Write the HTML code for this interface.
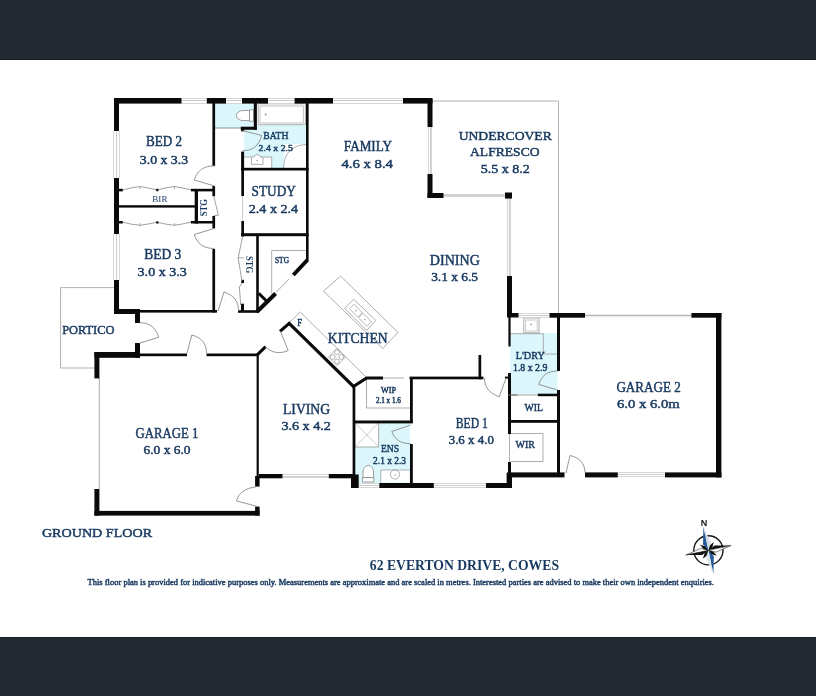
<!DOCTYPE html>
<html><head><meta charset="utf-8"><style>
html,body{margin:0;padding:0;background:#fff;}
body{width:816px;height:696px;position:relative;overflow:hidden;font-family:"Liberation Serif",serif;}
.band{position:absolute;left:0;width:816px;background:#222932;}
svg{position:absolute;left:0;top:0;will-change:transform;}
</style></head><body>
<div class="band" style="top:0;height:60px;border-bottom:1px solid #191c1f;box-sizing:border-box;"></div>
<div class="band" style="top:637px;height:59px;border-top:1px solid #191c1f;box-sizing:border-box;"></div>
<svg width="816" height="696" viewBox="0 0 816 696" style="top:0">
<rect x="215.0" y="103.0" width="39.0" height="25.0" fill="#dbf7fc"/>
<rect x="244.0" y="125.0" width="62.0" height="43.0" fill="#dbf7fc"/>
<rect x="284.0" y="144.0" width="22.0" height="24.0" fill="#fff"/>
<rect x="244.0" y="157.0" width="28.0" height="11.0" fill="#fff"/>
<rect x="355.0" y="423.0" width="55.0" height="60.0" fill="#dbf7fc"/>
<rect x="510.0" y="333.0" width="47.0" height="61.0" fill="#dbf7fc"/>
<path d="M433,101 L558.5,101 L558.5,313" stroke="#a8a8a8" stroke-width="0.9" fill="none"/>
<path d="M94.4,368 L60.6,368 L60.6,287.6 L114,287.6" stroke="#a8a8a8" stroke-width="0.9" fill="none"/>
<path d="M258.2,103.8 L305.4,103.8 L305.4,124.7 L258.2,124.7 Z" stroke="#999" stroke-width="0.8" fill="none"/>
<path d="M260,106 L303.4,106 L303.4,123 L260,123 Z" stroke="#aaa" stroke-width="0.7" fill="none"/>
<circle cx="265.7" cy="114.5" r="0.9" fill="#888"/>
<path d="M249.5,110.5 L243,110.5 A6.5,5 0 0 0 243,120.6 L249.5,120.6 Z" stroke="#888" stroke-width="0.8" fill="#fff"/>
<path d="M249.5,109.8 L253.5,109.8 L253.5,121.3 L249.5,121.3 Z" stroke="#888" stroke-width="0.8" fill="#fff"/>
<line x1="215.0" y1="128.0" x2="240.7" y2="128.0" stroke="#777" stroke-width="0.8" stroke-linecap="butt"/>
<path d="M283.5,168 Q284,146 306,144.5" stroke="#999" stroke-width="0.8" fill="none"/>
<path d="M244,157 L271.7,157 L271.7,168" stroke="#999" stroke-width="0.8" fill="none"/>
<path d="M251.5,164.4 L251.5,158 L257,154.3 L263,158 L263,164.4 Z" stroke="#999" stroke-width="0.8" fill="#fff"/>
<circle cx="257.2" cy="160.5" r="0.7" fill="#888"/>
<path d="M510,333.7 L543.3,333.7 L543.3,354 L557,354" stroke="#999" stroke-width="0.8" fill="none"/>
<path d="M523.7,318 L539,318 L539,332.8 L523.7,332.8 Z" stroke="#999" stroke-width="0.8" fill="#fff"/>
<path d="M525.5,320 L537.2,320 L537.2,331 L525.5,331 Z" stroke="#aaa" stroke-width="0.6" fill="none"/>
<circle cx="531" cy="324.5" r="0.8" fill="#888"/>
<line x1="517.6" y1="395.0" x2="537.8" y2="395.0" stroke="#999" stroke-width="0.9" stroke-linecap="butt"/>
<path d="M355,422.7 L378.6,422.7 L378.6,447 L355,447 Z" stroke="#999" stroke-width="0.8" fill="#fff"/>
<path d="M355,422.7 L378.6,447 M378.6,422.7 L355,447" stroke="#aaa" stroke-width="0.6" fill="none"/>
<path d="M363,477.6 L363,472 A5.2,6.5 0 0 1 373.5,472 L373.5,477.6 Z" stroke="#888" stroke-width="0.8" fill="#fff"/>
<path d="M362.5,477.6 L374,477.6 L374,482 L362.5,482 Z" stroke="#888" stroke-width="0.8" fill="#fff"/>
<path d="M410,470 L380.8,470 L380.8,482.5" stroke="#999" stroke-width="0.8" fill="none"/>
<rect x="381.5" y="470.7" width="28" height="11.5" fill="#fff"/>
<circle cx="395" cy="474.5" r="4.6" fill="none" stroke="#999" stroke-width="0.8"/>
<circle cx="395" cy="475" r="0.7" fill="#888"/>
<path d="M366.5,379 L366.5,408 L410,408" stroke="#999" stroke-width="0.8" fill="none"/>
<path d="M511,433.5 L543,433.5 L543,461.5 L511,461.5" stroke="#999" stroke-width="0.8" fill="none"/>
<path d="M271.7,293.4 L271.7,250.5 L306,250.5" stroke="#999" stroke-width="0.8" fill="none"/>
<path d="M323.5,291.2 L340.6,276.1 L397.9,332.4 L382.8,348.5 Z" stroke="#999" stroke-width="0.8" fill="none"/>
<path d="M344.6,308.3 L353.6,299.2 L375.8,320.4 L366.7,330.4 Z" stroke="#999" stroke-width="0.8" fill="none"/>
<path d="M349.5,308.8 L354,304.3 L362.3,312.6 L357.8,317.1 Z" stroke="#999" stroke-width="0.7" fill="none"/>
<path d="M358.5,317.8 L363,313.3 L371.3,321.6 L366.8,326.1 Z" stroke="#999" stroke-width="0.7" fill="none"/>
<circle cx="355.9" cy="310.7" r="0.7" fill="#888"/><circle cx="364.9" cy="319.7" r="0.7" fill="#888"/>
<path d="M289.5,322.5 L300.3,312 L365.7,376.7" stroke="#999" stroke-width="0.8" fill="none"/>
<path d="M337,348.5 L345.6,357 L337,365.6 L328.5,357 Z" stroke="#999" stroke-width="0.7" fill="none"/>
<circle cx="337" cy="352.2" r="2.4" fill="none" stroke="#999" stroke-width="0.7"/>
<circle cx="341.3" cy="357" r="2.4" fill="none" stroke="#999" stroke-width="0.7"/>
<circle cx="337" cy="361.4" r="2.4" fill="none" stroke="#999" stroke-width="0.7"/>
<circle cx="332.7" cy="357" r="2.4" fill="none" stroke="#999" stroke-width="0.7"/>
<path d="M122.8,189.9 Q131,187.6 140,186.5 Q149,188 157.2,189.9 Q166,187.6 174.4,186.5 Q183,188 191,189.9" stroke="#888" stroke-width="0.8" fill="none"/>
<path d="M122.8,222.2 Q131,224.5 140,225.3 Q149,224 157.2,222.2 Q166,224.5 174.4,225.3 Q183,224 191,222.2" stroke="#888" stroke-width="0.8" fill="none"/>
<rect x="156.2" y="188.8" width="2.2" height="2.4" fill="#0a0a0a"/>
<rect x="156.2" y="221.4" width="2.2" height="2.2" fill="#0a0a0a"/>
<line x1="140.0" y1="186.5" x2="140.0" y2="189.3" stroke="#888" stroke-width="0.7" stroke-linecap="butt"/>
<line x1="140.0" y1="223.0" x2="140.0" y2="225.8" stroke="#888" stroke-width="0.7" stroke-linecap="butt"/>
<line x1="174.4" y1="186.5" x2="174.4" y2="189.3" stroke="#888" stroke-width="0.7" stroke-linecap="butt"/>
<line x1="174.4" y1="223.0" x2="174.4" y2="225.8" stroke="#888" stroke-width="0.7" stroke-linecap="butt"/>
<line x1="443.5" y1="194.5" x2="505.0" y2="194.5" stroke="#d6d6d6" stroke-width="1"/>
<line x1="443.5" y1="195.5" x2="505.0" y2="195.5" stroke="#cdcdcd" stroke-width="1"/>
<line x1="443.5" y1="196.5" x2="505.0" y2="196.5" stroke="#d6d6d6" stroke-width="1"/>
<line x1="507.5" y1="198.6" x2="507.5" y2="276.0" stroke="#d6d6d6" stroke-width="1"/>
<line x1="509.5" y1="198.6" x2="509.5" y2="276.0" stroke="#cdcdcd" stroke-width="1"/>
<line x1="510.5" y1="198.6" x2="510.5" y2="276.0" stroke="#d6d6d6" stroke-width="1"/>
<line x1="181.5" y1="98.5" x2="206.8" y2="98.5" stroke="#d6d6d6" stroke-width="1"/>
<line x1="181.5" y1="100.5" x2="206.8" y2="100.5" stroke="#cdcdcd" stroke-width="1"/>
<line x1="181.5" y1="103.5" x2="206.8" y2="103.5" stroke="#d6d6d6" stroke-width="1"/>
<line x1="226.0" y1="98.5" x2="242.0" y2="98.5" stroke="#d6d6d6" stroke-width="1"/>
<line x1="226.0" y1="100.5" x2="242.0" y2="100.5" stroke="#cdcdcd" stroke-width="1"/>
<line x1="226.0" y1="103.5" x2="242.0" y2="103.5" stroke="#d6d6d6" stroke-width="1"/>
<line x1="268.0" y1="98.5" x2="294.6" y2="98.5" stroke="#d6d6d6" stroke-width="1"/>
<line x1="268.0" y1="100.5" x2="294.6" y2="100.5" stroke="#cdcdcd" stroke-width="1"/>
<line x1="268.0" y1="103.5" x2="294.6" y2="103.5" stroke="#d6d6d6" stroke-width="1"/>
<line x1="333.0" y1="98.5" x2="403.0" y2="98.5" stroke="#d6d6d6" stroke-width="1"/>
<line x1="333.0" y1="100.5" x2="403.0" y2="100.5" stroke="#cdcdcd" stroke-width="1"/>
<line x1="333.0" y1="103.5" x2="403.0" y2="103.5" stroke="#d6d6d6" stroke-width="1"/>
<line x1="113.5" y1="131.2" x2="113.5" y2="178.6" stroke="#d6d6d6" stroke-width="1"/>
<line x1="116.5" y1="131.2" x2="116.5" y2="178.6" stroke="#cdcdcd" stroke-width="1"/>
<line x1="119.5" y1="131.2" x2="119.5" y2="178.6" stroke="#d6d6d6" stroke-width="1"/>
<line x1="113.5" y1="234.0" x2="113.5" y2="280.4" stroke="#d6d6d6" stroke-width="1"/>
<line x1="116.5" y1="234.0" x2="116.5" y2="280.4" stroke="#cdcdcd" stroke-width="1"/>
<line x1="119.5" y1="234.0" x2="119.5" y2="280.4" stroke="#d6d6d6" stroke-width="1"/>
<line x1="428.5" y1="127.0" x2="428.5" y2="174.0" stroke="#d6d6d6" stroke-width="1"/>
<line x1="430.5" y1="127.0" x2="430.5" y2="174.0" stroke="#cdcdcd" stroke-width="1"/>
<line x1="431.5" y1="127.0" x2="431.5" y2="174.0" stroke="#d6d6d6" stroke-width="1"/>
<line x1="99.3" y1="378.0" x2="99.3" y2="489.0" stroke="#a0a0a0" stroke-width="0.9" stroke-linecap="butt"/>
<line x1="282.5" y1="474.5" x2="328.8" y2="474.5" stroke="#d6d6d6" stroke-width="1"/>
<line x1="282.5" y1="476.5" x2="328.8" y2="476.5" stroke="#cdcdcd" stroke-width="1"/>
<line x1="282.5" y1="477.5" x2="328.8" y2="477.5" stroke="#d6d6d6" stroke-width="1"/>
<line x1="358.7" y1="483.5" x2="379.3" y2="483.5" stroke="#d6d6d6" stroke-width="1"/>
<line x1="358.7" y1="485.5" x2="379.3" y2="485.5" stroke="#cdcdcd" stroke-width="1"/>
<line x1="358.7" y1="487.5" x2="379.3" y2="487.5" stroke="#d6d6d6" stroke-width="1"/>
<line x1="433.8" y1="483.5" x2="486.0" y2="483.5" stroke="#d6d6d6" stroke-width="1"/>
<line x1="433.8" y1="485.5" x2="486.0" y2="485.5" stroke="#cdcdcd" stroke-width="1"/>
<line x1="433.8" y1="487.5" x2="486.0" y2="487.5" stroke="#d6d6d6" stroke-width="1"/>
<line x1="617.8" y1="472.5" x2="665.0" y2="472.5" stroke="#d6d6d6" stroke-width="1"/>
<line x1="617.8" y1="474.5" x2="665.0" y2="474.5" stroke="#cdcdcd" stroke-width="1"/>
<line x1="617.8" y1="476.5" x2="665.0" y2="476.5" stroke="#d6d6d6" stroke-width="1"/>
<line x1="518.5" y1="313.5" x2="549.5" y2="313.5" stroke="#d6d6d6" stroke-width="1"/>
<line x1="518.5" y1="315.5" x2="549.5" y2="315.5" stroke="#cdcdcd" stroke-width="1"/>
<line x1="518.5" y1="317.5" x2="549.5" y2="317.5" stroke="#d6d6d6" stroke-width="1"/>
<line x1="585.0" y1="315.3" x2="691.4" y2="315.3" stroke="#999" stroke-width="0.9" stroke-linecap="butt"/>
<line x1="585.0" y1="316.8" x2="691.4" y2="316.8" stroke="#ccc" stroke-width="0.5" stroke-linecap="butt"/>
<line x1="242.6" y1="196.0" x2="242.6" y2="221.0" stroke="#bbb" stroke-width="0.8" stroke-linecap="butt"/>
<line x1="509.5" y1="434.0" x2="509.5" y2="462.0" stroke="#999" stroke-width="0.8" stroke-linecap="butt"/>
<line x1="383.0" y1="378.0" x2="404.0" y2="378.0" stroke="#999" stroke-width="0.8" stroke-linecap="butt"/>
<rect x="114.0" y="98.0" width="67.5" height="5.6" fill="#0a0a0a"/>
<rect x="206.8" y="98.0" width="19.2" height="5.6" fill="#0a0a0a"/>
<rect x="242.0" y="98.0" width="26.0" height="5.6" fill="#0a0a0a"/>
<rect x="294.6" y="98.0" width="38.4" height="5.6" fill="#0a0a0a"/>
<rect x="403.0" y="98.0" width="29.5" height="5.6" fill="#0a0a0a"/>
<rect x="114.0" y="99.0" width="5.0" height="32.0" fill="#0a0a0a"/>
<rect x="114.0" y="178.0" width="5.0" height="56.0" fill="#0a0a0a"/>
<rect x="114.0" y="280.0" width="5.0" height="34.0" fill="#0a0a0a"/>
<rect x="114.0" y="309.0" width="24.0" height="5.0" fill="#0a0a0a"/>
<rect x="138.0" y="310.0" width="79.0" height="2.6" fill="#0a0a0a"/>
<rect x="135.0" y="309.0" width="5.0" height="14.0" fill="#0a0a0a"/>
<rect x="135.0" y="343.0" width="5.0" height="14.8" fill="#0a0a0a"/>
<rect x="94.4" y="352.0" width="45.6" height="5.8" fill="#0a0a0a"/>
<rect x="140.0" y="353.5" width="47.0" height="2.7" fill="#0a0a0a"/>
<rect x="206.5" y="353.5" width="51.5" height="2.7" fill="#0a0a0a"/>
<rect x="94.4" y="352.0" width="5.0" height="26.4" fill="#0a0a0a"/>
<rect x="94.4" y="489.0" width="5.0" height="26.6" fill="#0a0a0a"/>
<rect x="94.4" y="510.9" width="165.2" height="4.7" fill="#0a0a0a"/>
<rect x="256.6" y="354.0" width="2.2" height="123.0" fill="#0a0a0a"/>
<rect x="255.1" y="476.0" width="4.5" height="10.6" fill="#0a0a0a"/>
<rect x="255.1" y="506.6" width="4.5" height="9.0" fill="#0a0a0a"/>
<rect x="259.0" y="474.0" width="23.5" height="4.3" fill="#0a0a0a"/>
<rect x="328.8" y="474.0" width="25.7" height="4.3" fill="#0a0a0a"/>
<rect x="351.0" y="474.5" width="7.7" height="13.5" fill="#0a0a0a"/>
<rect x="379.3" y="483.0" width="54.5" height="5.0" fill="#0a0a0a"/>
<rect x="486.0" y="483.0" width="22.0" height="5.0" fill="#0a0a0a"/>
<rect x="506.6" y="473.0" width="5.4" height="15.0" fill="#0a0a0a"/>
<rect x="507.0" y="472.4" width="57.5" height="5.0" fill="#0a0a0a"/>
<rect x="585.0" y="472.4" width="32.8" height="5.0" fill="#0a0a0a"/>
<rect x="665.0" y="472.4" width="56.4" height="5.0" fill="#0a0a0a"/>
<rect x="716.0" y="313.0" width="5.4" height="164.4" fill="#0a0a0a"/>
<rect x="549.5" y="313.0" width="35.5" height="4.7" fill="#0a0a0a"/>
<rect x="691.4" y="313.0" width="30.0" height="4.7" fill="#0a0a0a"/>
<rect x="507.0" y="313.0" width="11.5" height="4.5" fill="#0a0a0a"/>
<rect x="507.0" y="276.0" width="5.0" height="41.0" fill="#0a0a0a"/>
<rect x="557.0" y="313.0" width="3.0" height="58.0" fill="#0a0a0a"/>
<rect x="557.0" y="390.0" width="3.0" height="87.0" fill="#0a0a0a"/>
<rect x="508.4" y="317.0" width="2.2" height="29.5" fill="#0a0a0a"/>
<rect x="508.0" y="373.0" width="3.0" height="61.0" fill="#0a0a0a"/>
<rect x="508.0" y="462.0" width="3.0" height="26.0" fill="#0a0a0a"/>
<rect x="505.0" y="376.6" width="3.4" height="2.0" fill="#0a0a0a"/>
<rect x="537.8" y="393.7" width="19.2" height="2.5" fill="#0a0a0a"/>
<line x1="508.0" y1="395.0" x2="517.6" y2="395.0" stroke="#555" stroke-width="1.2" stroke-linecap="butt"/>
<rect x="508.0" y="420.0" width="49.0" height="2.8" fill="#0a0a0a"/>
<rect x="427.5" y="99.0" width="5.0" height="28.0" fill="#0a0a0a"/>
<rect x="427.5" y="174.0" width="5.0" height="24.0" fill="#0a0a0a"/>
<rect x="427.5" y="193.0" width="16.0" height="5.0" fill="#0a0a0a"/>
<rect x="505.0" y="192.5" width="7.0" height="6.1" fill="#0a0a0a"/>
<rect x="306.0" y="103.0" width="2.6" height="158.0" fill="#0a0a0a"/>
<line x1="307.4" y1="260.0" x2="293.3" y2="275.0" stroke="#0a0a0a" stroke-width="4" stroke-linecap="butt"/>
<line x1="289.2" y1="279.0" x2="276.2" y2="292.2" stroke="#999" stroke-width="0.9" stroke-linecap="butt"/>
<line x1="275.6" y1="293.5" x2="257.0" y2="311.8" stroke="#0a0a0a" stroke-width="4" stroke-linecap="butt"/>
<line x1="258.8" y1="293.4" x2="266.0" y2="300.5" stroke="#0a0a0a" stroke-width="3" stroke-linecap="butt"/>
<rect x="212.4" y="103.0" width="2.7" height="63.0" fill="#0a0a0a"/>
<rect x="212.4" y="186.0" width="2.7" height="10.2" fill="#0a0a0a"/>
<rect x="212.4" y="216.0" width="2.7" height="12.5" fill="#0a0a0a"/>
<rect x="212.4" y="249.0" width="2.7" height="63.5" fill="#0a0a0a"/>
<rect x="114.0" y="188.8" width="8.8" height="2.6" fill="#0a0a0a"/>
<rect x="190.9" y="188.8" width="24.1" height="2.6" fill="#0a0a0a"/>
<rect x="119.0" y="205.2" width="78.0" height="2.4" fill="#0a0a0a"/>
<rect x="194.7" y="189.0" width="3.3" height="34.6" fill="#0a0a0a"/>
<rect x="114.0" y="221.0" width="8.8" height="2.5" fill="#0a0a0a"/>
<rect x="190.9" y="221.0" width="24.1" height="2.5" fill="#0a0a0a"/>
<rect x="253.8" y="103.0" width="3.1" height="26.8" fill="#0a0a0a"/>
<rect x="240.7" y="126.7" width="16.2" height="3.1" fill="#0a0a0a"/>
<rect x="241.1" y="127.0" width="3.0" height="4.4" fill="#0a0a0a"/>
<rect x="241.1" y="151.6" width="3.0" height="18.9" fill="#0a0a0a"/>
<rect x="241.0" y="167.8" width="67.6" height="2.7" fill="#0a0a0a"/>
<rect x="241.3" y="170.0" width="2.7" height="26.0" fill="#0a0a0a"/>
<rect x="241.3" y="221.0" width="2.7" height="15.5" fill="#0a0a0a"/>
<rect x="241.0" y="233.2" width="67.6" height="3.0" fill="#0a0a0a"/>
<rect x="256.2" y="236.0" width="2.6" height="76.5" fill="#0a0a0a"/>
<rect x="241.3" y="279.8" width="2.7" height="3.2" fill="#0a0a0a"/>
<rect x="241.0" y="303.7" width="3.0" height="7.3" fill="#0a0a0a"/>
<rect x="238.0" y="310.2" width="20.8" height="2.6" fill="#0a0a0a"/>
<path d="M280,331.4 L289.2,323.4 L353.4,386.5 L366.6,378 L383,378" stroke="#0a0a0a" stroke-width="3.2" fill="none"/>
<rect x="409.5" y="376.6" width="73.9" height="2.7" fill="#0a0a0a"/>
<rect x="352.6" y="386.0" width="2.7" height="102.0" fill="#0a0a0a"/>
<rect x="478.5" y="355.0" width="2.7" height="24.3" fill="#0a0a0a"/>
<rect x="410.0" y="377.0" width="2.8" height="46.0" fill="#0a0a0a"/>
<rect x="410.0" y="444.0" width="2.8" height="44.0" fill="#0a0a0a"/>
<rect x="353.0" y="420.5" width="59.8" height="2.9" fill="#0a0a0a"/>
<line x1="256.7" y1="355.4" x2="265.6" y2="346.6" stroke="#0a0a0a" stroke-width="3" stroke-linecap="butt"/>
<path d="M214.5,186 L194.3,180 C197.11,170.53 203.85,165.80 214.5,165.8" stroke="#8a8a8a" stroke-width="0.9" fill="none"/>
<path d="M214,228.5 L194.3,234.5 C197.14,243.83 203.71,248.50 214,248.5" stroke="#8a8a8a" stroke-width="0.9" fill="none"/>
<path d="M213.8,196.2 L218.4,215.3 L213.8,215.5" stroke="#888" stroke-width="0.8" fill="none"/>
<path d="M242.7,130.7 L261.6,135.4 C259.02,145.77 252.66,150.90 242.5,150.8" stroke="#8a8a8a" stroke-width="0.9" fill="none"/>
<path d="M242.6,237 L238.1,257.8 L242,281 M242,283 L239.4,287 L240.7,305" stroke="#888" stroke-width="0.8" fill="none"/>
<line x1="238.0" y1="257.8" x2="244.0" y2="257.8" stroke="#888" stroke-width="0.7" stroke-linecap="butt"/>
<path d="M218,311 L224,292 C233.73,295.07 238.60,301.41 238.6,311" stroke="#8a8a8a" stroke-width="0.9" fill="none"/>
<path d="M139.8,343 L158.7,337.4 C155.80,327.60 149.50,322.70 139.8,322.7" stroke="#8a8a8a" stroke-width="0.9" fill="none"/>
<path d="M187,353 L191.8,335 C201.60,337.61 206.50,343.61 206.5,353" stroke="#8a8a8a" stroke-width="0.9" fill="none"/>
<path d="M280.5,331.5 L288.2,350.6 C279.19,354.23 271.56,352.90 265.3,346.6" stroke="#8a8a8a" stroke-width="0.9" fill="none"/>
<path d="M258.7,506.8 L236.5,500.9 C238.61,492.97 245.11,488.27 256,486.8" stroke="#8a8a8a" stroke-width="0.9" fill="none"/>
<path d="M410.6,425 L391.8,431.5 C394.61,439.63 400.88,443.70 410.6,443.7" stroke="#8a8a8a" stroke-width="0.9" fill="none"/>
<path d="M506,378.4 L499.2,396.8 C489.15,393.09 484.25,386.75 484.5,377.8" stroke="#8a8a8a" stroke-width="0.9" fill="none"/>
<path d="M557.5,390 L538.8,384.5 C541.45,375.50 547.68,371.00 557.5,371" stroke="#8a8a8a" stroke-width="0.9" fill="#dbf7fc"/>
<path d="M566,473 L570,455.5 C579.71,457.72 584.71,463.35 585,472.4" stroke="#8a8a8a" stroke-width="0.9" fill="none"/>
<text x="146.0" y="146.0" font-family="Liberation Serif" font-size="14" font-weight="normal" stroke="#17385f" stroke-width="0.45" fill="#17385f" textLength="36.0" lengthAdjust="spacingAndGlyphs" >BED 2</text>
<text x="139.8" y="163.8" font-family="Liberation Serif" font-size="12" font-weight="normal" stroke="#17385f" stroke-width="0.45" fill="#17385f" textLength="48.3" lengthAdjust="spacingAndGlyphs" >3.0 x 3.3</text>
<text x="152.3" y="201.6" font-family="Liberation Serif" font-size="9.2" font-weight="normal" fill="#17385f" textLength="15.2" lengthAdjust="spacingAndGlyphs" >BIR</text>
<text x="144.2" y="258.8" font-family="Liberation Serif" font-size="14" font-weight="normal" stroke="#17385f" stroke-width="0.45" fill="#17385f" textLength="37.1" lengthAdjust="spacingAndGlyphs" >BED 3</text>
<text x="137.6" y="275.8" font-family="Liberation Serif" font-size="12" font-weight="normal" stroke="#17385f" stroke-width="0.45" fill="#17385f" textLength="49.2" lengthAdjust="spacingAndGlyphs" >3.0 x 3.3</text>
<text x="263.3" y="138.5" font-family="Liberation Serif" font-size="10.5" font-weight="normal" stroke="#17385f" stroke-width="0.45" fill="#17385f" textLength="25.1" lengthAdjust="spacingAndGlyphs" >BATH</text>
<text x="258.6" y="150.6" font-family="Liberation Serif" font-size="9" font-weight="normal" stroke="#17385f" stroke-width="0.45" fill="#17385f" textLength="34.4" lengthAdjust="spacingAndGlyphs" >2.4 x 2.5</text>
<text x="251.6" y="196.3" font-family="Liberation Serif" font-size="14.2" font-weight="normal" stroke="#17385f" stroke-width="0.45" fill="#17385f" textLength="44.2" lengthAdjust="spacingAndGlyphs" >STUDY</text>
<text x="248.8" y="213.2" font-family="Liberation Serif" font-size="12" font-weight="normal" stroke="#17385f" stroke-width="0.45" fill="#17385f" textLength="49.2" lengthAdjust="spacingAndGlyphs" >2.4 x 2.4</text>
<text x="275.0" y="263.0" font-family="Liberation Serif" font-size="8" font-weight="normal" stroke="#17385f" stroke-width="0.45" fill="#17385f" textLength="14.0" lengthAdjust="spacingAndGlyphs" >STG</text>
<text x="343.8" y="150.9" font-family="Liberation Serif" font-size="14" font-weight="normal" stroke="#17385f" stroke-width="0.45" fill="#17385f" textLength="48.2" lengthAdjust="spacingAndGlyphs" >FAMILY</text>
<text x="341.4" y="167.8" font-family="Liberation Serif" font-size="12" font-weight="normal" stroke="#17385f" stroke-width="0.45" fill="#17385f" textLength="51.6" lengthAdjust="spacingAndGlyphs" >4.6 x 8.4</text>
<text x="458.7" y="139.5" font-family="Liberation Serif" font-size="13.2" font-weight="normal" stroke="#17385f" stroke-width="0.45" fill="#17385f" textLength="93.1" lengthAdjust="spacingAndGlyphs" >UNDERCOVER</text>
<text x="470.0" y="155.6" font-family="Liberation Serif" font-size="13.2" font-weight="normal" stroke="#17385f" stroke-width="0.45" fill="#17385f" textLength="69.6" lengthAdjust="spacingAndGlyphs" >ALFRESCO</text>
<text x="480.7" y="172.5" font-family="Liberation Serif" font-size="12" font-weight="normal" stroke="#17385f" stroke-width="0.45" fill="#17385f" textLength="49.1" lengthAdjust="spacingAndGlyphs" >5.5 x 8.2</text>
<text x="429.8" y="264.7" font-family="Liberation Serif" font-size="14" font-weight="normal" stroke="#17385f" stroke-width="0.45" fill="#17385f" textLength="50.0" lengthAdjust="spacingAndGlyphs" >DINING</text>
<text x="431.2" y="281.4" font-family="Liberation Serif" font-size="12" font-weight="normal" stroke="#17385f" stroke-width="0.45" fill="#17385f" textLength="46.8" lengthAdjust="spacingAndGlyphs" >3.1 x 6.5</text>
<text x="62.2" y="334.3" font-family="Liberation Serif" font-size="12" font-weight="normal" stroke="#17385f" stroke-width="0.45" fill="#17385f" textLength="52.2" lengthAdjust="spacingAndGlyphs" >PORTICO</text>
<text x="297.3" y="326.4" font-family="Liberation Serif" font-size="9.5" font-weight="normal" stroke="#17385f" stroke-width="0.45" fill="#17385f" textLength="4.7" lengthAdjust="spacingAndGlyphs" >F</text>
<text x="327.8" y="342.5" font-family="Liberation Serif" font-size="14" font-weight="normal" stroke="#17385f" stroke-width="0.45" fill="#17385f" textLength="59.8" lengthAdjust="spacingAndGlyphs" >KITCHEN</text>
<text x="515.7" y="358.6" font-family="Liberation Serif" font-size="10.5" font-weight="normal" stroke="#17385f" stroke-width="0.45" fill="#17385f" textLength="29.1" lengthAdjust="spacingAndGlyphs" >L'DRY</text>
<text x="513.0" y="370.6" font-family="Liberation Serif" font-size="9.5" font-weight="normal" stroke="#17385f" stroke-width="0.45" fill="#17385f" textLength="34.3" lengthAdjust="spacingAndGlyphs" >1.8 x 2.9</text>
<text x="524.5" y="410.9" font-family="Liberation Serif" font-size="10.5" font-weight="normal" stroke="#17385f" stroke-width="0.45" fill="#17385f" textLength="18.5" lengthAdjust="spacingAndGlyphs" >WIL</text>
<text x="515.6" y="448.3" font-family="Liberation Serif" font-size="10.5" font-weight="normal" stroke="#17385f" stroke-width="0.45" fill="#17385f" textLength="19.4" lengthAdjust="spacingAndGlyphs" >WIR</text>
<text x="381.0" y="393.0" font-family="Liberation Serif" font-size="8.3" font-weight="normal" stroke="#17385f" stroke-width="0.45" fill="#17385f" textLength="15.0" lengthAdjust="spacingAndGlyphs" >WIP</text>
<text x="375.9" y="402.8" font-family="Liberation Serif" font-size="7.2" font-weight="normal" stroke="#17385f" stroke-width="0.45" fill="#17385f" textLength="25.0" lengthAdjust="spacingAndGlyphs" >2.1 x 1.6</text>
<text x="381.0" y="451.6" font-family="Liberation Serif" font-size="10.7" font-weight="normal" stroke="#17385f" stroke-width="0.45" fill="#17385f" textLength="18.0" lengthAdjust="spacingAndGlyphs" >ENS</text>
<text x="373.1" y="463.5" font-family="Liberation Serif" font-size="9.5" font-weight="normal" stroke="#17385f" stroke-width="0.45" fill="#17385f" textLength="32.9" lengthAdjust="spacingAndGlyphs" >2.1 x 2.3</text>
<text x="455.8" y="427.8" font-family="Liberation Serif" font-size="14" font-weight="normal" stroke="#17385f" stroke-width="0.45" fill="#17385f" textLength="32.0" lengthAdjust="spacingAndGlyphs" >BED 1</text>
<text x="448.7" y="444.2" font-family="Liberation Serif" font-size="12" font-weight="normal" stroke="#17385f" stroke-width="0.45" fill="#17385f" textLength="45.2" lengthAdjust="spacingAndGlyphs" >3.6 x 4.0</text>
<text x="283.0" y="413.5" font-family="Liberation Serif" font-size="14.2" font-weight="normal" stroke="#17385f" stroke-width="0.45" fill="#17385f" textLength="47.0" lengthAdjust="spacingAndGlyphs" >LIVING</text>
<text x="281.4" y="430.2" font-family="Liberation Serif" font-size="12" font-weight="normal" stroke="#17385f" stroke-width="0.45" fill="#17385f" textLength="49.4" lengthAdjust="spacingAndGlyphs" >3.6 x 4.2</text>
<text x="135.6" y="438.3" font-family="Liberation Serif" font-size="15" font-weight="normal" stroke="#17385f" stroke-width="0.45" fill="#17385f" textLength="62.8" lengthAdjust="spacingAndGlyphs" >GARAGE 1</text>
<text x="143.5" y="453.8" font-family="Liberation Serif" font-size="12" font-weight="normal" stroke="#17385f" stroke-width="0.45" fill="#17385f" textLength="47.0" lengthAdjust="spacingAndGlyphs" >6.0 x 6.0</text>
<text x="616.4" y="391.7" font-family="Liberation Serif" font-size="13.6" font-weight="normal" stroke="#17385f" stroke-width="0.45" fill="#17385f" textLength="64.4" lengthAdjust="spacingAndGlyphs" >GARAGE 2</text>
<text x="616.9" y="407.8" font-family="Liberation Serif" font-size="12" font-weight="normal" stroke="#17385f" stroke-width="0.45" fill="#17385f" textLength="62.9" lengthAdjust="spacingAndGlyphs" >6.0 x 6.0m</text>
<text x="41.9" y="536.8" font-family="Liberation Serif" font-size="12.9" font-weight="normal" stroke="#17385f" stroke-width="0.45" fill="#17385f" textLength="110.3" lengthAdjust="spacingAndGlyphs" >GROUND FLOOR</text>
<text x="369.8" y="569.5" font-family="Liberation Serif" font-size="14.2" font-weight="bold" fill="#17385f" textLength="189.2" lengthAdjust="spacingAndGlyphs" >62 EVERTON DRIVE, COWES</text>
<text x="87.6" y="585.0" font-family="Liberation Serif" font-size="8.6" font-weight="normal" stroke="#17385f" stroke-width="0.45" fill="#17385f" textLength="626.4" lengthAdjust="spacingAndGlyphs" >This floor plan is provided for indicative purposes only. Measurements are approximate and are scaled in metres. Interested parties are advised to make their own independent enquiries.</text>
<text x="0" y="0" font-family="Liberation Serif" font-size="10.8" font-weight="bold" fill="#17385f" textLength="17.3" lengthAdjust="spacingAndGlyphs" transform="translate(207.3,216.2) rotate(-90)">STG</text>
<text x="0" y="0" font-family="Liberation Serif" font-size="11" font-weight="bold" fill="#17385f" textLength="17.5" lengthAdjust="spacingAndGlyphs" transform="translate(246.4,255.9) rotate(90)">STG</text>

<g transform="translate(708.4,550.3)">
<circle cx="0" cy="0" r="14.6" fill="none" stroke="#151515" stroke-width="1.4"/>
<g transform="rotate(-12)">
<g transform="rotate(45)">
<path d="M0,-10 L-1.8,-4 L0,0 L1.8,-4 Z" fill="#111"/>
<path d="M0,10 L-1.8,4 L0,0 L1.8,4 Z" fill="#111"/>
<path d="M-10,0 L-4,-1.8 L0,0 L-4,1.8 Z" fill="#111"/>
<path d="M10,0 L4,-1.8 L0,0 L4,1.8 Z" fill="#111"/>
</g>
<path d="M0,-24.2 L-4,-7 L0,0 Z" fill="#245a9c"/>
<path d="M0,-24.2 L4,-7 L0,0 Z" fill="#d5dde6"/>
<path d="M0,24.2 L4,7 L0,0 Z" fill="#245a9c"/>
<path d="M0,24.2 L-4,7 L0,0 Z" fill="#dfe5ec"/>
<path d="M-23.2,0 L-7,-3.4 L0,0 Z" fill="#fff" stroke="#111" stroke-width="0.5"/>
<path d="M-23.2,0 L-7,3.4 L0,0 Z" fill="#111"/>
<path d="M23.2,0 L7,-3.4 L0,0 Z" fill="#111"/>
<path d="M23.2,0 L7,3.4 L0,0 Z" fill="#fff" stroke="#111" stroke-width="0.5"/>
</g>
</g>
<text x="700.8" y="525.8" font-family="Liberation Sans" font-size="9" font-weight="bold" fill="#111">N</text>

</svg>
</body></html>
